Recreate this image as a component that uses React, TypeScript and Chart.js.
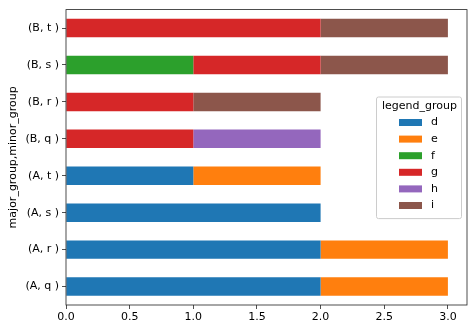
import React, { useEffect, useRef } from "react";
import { Chart, registerables } from "chart.js";

Chart.register(...registerables);

const categories = ["(A, q )", "(A, r )", "(A, s )", "(A, t )", "(B, q )", "(B, r )", "(B, s )", "(B, t )"];
const seriesNames = ["d", "e", "f", "g", "h", "i"];
const seriesColors = ["#1f77b4", "#ff7f0e", "#2ca02c", "#d62728", "#9467bd", "#8c564b"];
const dValues = [2, 2, 2, 1, 0, 0, 0, 0];
const eValues = [1, 1, 0, 1, 0, 0, 0, 0];
const fValues = [0, 0, 0, 0, 0, 0, 1, 0];
const gValues = [0, 0, 0, 0, 1, 1, 1, 2];
const hValues = [0, 0, 0, 0, 1, 0, 0, 0];
const iValues = [0, 0, 0, 0, 0, 1, 1, 1];
const seriesValues = [dValues, eValues, fValues, gValues, hValues, iValues];
const xTickValues = [0, 0.5, 1, 1.5, 2, 2.5, 3];
const legendTitle = "legend_group";
const yAxisTitle = "major_group,minor_group";

const FONT = "'DejaVu Sans', sans-serif";
const FS = 11;

const framePlugin = {
  id: "frame",
  afterDraw(chart: any) {
    const { ctx, chartArea } = chart;
    ctx.save();
    ctx.strokeStyle = "#222";
    ctx.lineWidth = 0.8;
    ctx.strokeRect(chartArea.left, chartArea.top, chartArea.right - chartArea.left, chartArea.bottom - chartArea.top);
    ctx.restore();
  },
};

const legendPlugin = {
  id: "innerLegend",
  afterDraw(chart: any) {
    const { ctx, chartArea } = chart;
    const ds = chart.data.datasets;
    const rowH = 16.6;
    const boxW = 85;
    const boxH = 22 + ds.length * rowH;
    const right = chartArea.right - 6;
    const left = right - boxW;
    const top = (chartArea.top + chartArea.bottom) / 2 - boxH / 2;
    ctx.save();
    ctx.fillStyle = "rgba(255,255,255,0.8)";
    ctx.strokeStyle = "#cccccc";
    ctx.lineWidth = 1;
    ctx.beginPath();
    (ctx as any).roundRect(left + 0.5, top + 0.5, boxW, boxH, 2);
    ctx.fill();
    ctx.stroke();
    ctx.fillStyle = "#000";
    ctx.font = `${FS}px ${FONT}`;
    ctx.textBaseline = "middle";
    ctx.textAlign = "center";
    ctx.fillText(legendTitle, left + boxW / 2 + 1, top + 10);
    ctx.textAlign = "left";
    ds.forEach((d: any, k: number) => {
      const cy = top + 26 + k * rowH;
      ctx.fillStyle = d.backgroundColor;
      ctx.fillRect(left + 23, cy - 3.5, 23, 7);
      ctx.fillStyle = "#000";
      ctx.fillText(d.label, left + 55, cy);
    });
    ctx.restore();
  },
};

export default function App() {
  const ref = useRef<HTMLCanvasElement>(null);
  useEffect(() => {
    document.body.style.margin = "0";
    const chart = new Chart(ref.current!, {
      type: "bar",
      data: {
        labels: categories,
        datasets: seriesNames.map((name, k) => ({
          label: name,
          data: seriesValues[k],
          backgroundColor: seriesColors[k],
          borderWidth: 0,
          barPercentage: 0.5,
          categoryPercentage: 1,
        })),
      },
      options: {
        indexAxis: "y",
        animation: false,
        responsive: false,
        maintainAspectRatio: false,
        layout: { padding: { left: 0, right: 7, top: 8, bottom: 0 } },
        plugins: {
          legend: { display: false },
          tooltip: { enabled: false },
        },
        scales: {
          x: {
            stacked: true,
            min: 0,
            max: 3.15,
            afterBuildTicks: (scale: any) => {
              scale.ticks = xTickValues.map((v) => ({ value: v }));
            },
            afterFit: (scale: any) => {
              scale.height = 28;
            },
            ticks: {
              color: "#000",
              font: { family: FONT, size: FS },
              padding: 2,
              maxRotation: 0,
              callback: (v: any) => Number(v).toFixed(1),
            },
            grid: { drawOnChartArea: false, drawTicks: true, tickLength: 4, color: "#222", lineWidth: 0.8 },
            border: { display: false },
          },
          y: {
            stacked: true,
            reverse: true,
            offset: true,
            afterFit: (scale: any) => {
              scale.width = 66;
            },
            title: {
              display: true,
              text: yAxisTitle,
              color: "#000",
              font: { family: FONT, size: FS },
              padding: { top: 7, bottom: 0 },
            },
            ticks: {
              color: "#000",
              font: { family: FONT, size: FS },
              padding: 3,
            },
            grid: { drawOnChartArea: false, drawTicks: true, tickLength: 4, color: "#222", lineWidth: 0.8, offset: false },
            border: { display: false },
          },
        },
      },
      plugins: [framePlugin, legendPlugin],
    } as any);
    return () => chart.destroy();
  }, []);
  return (
    <div style={{ width: 474, height: 333, background: "#fff" }}>
      <canvas ref={ref} width={474} height={333} style={{ display: "block" }} />
    </div>
  );
}
